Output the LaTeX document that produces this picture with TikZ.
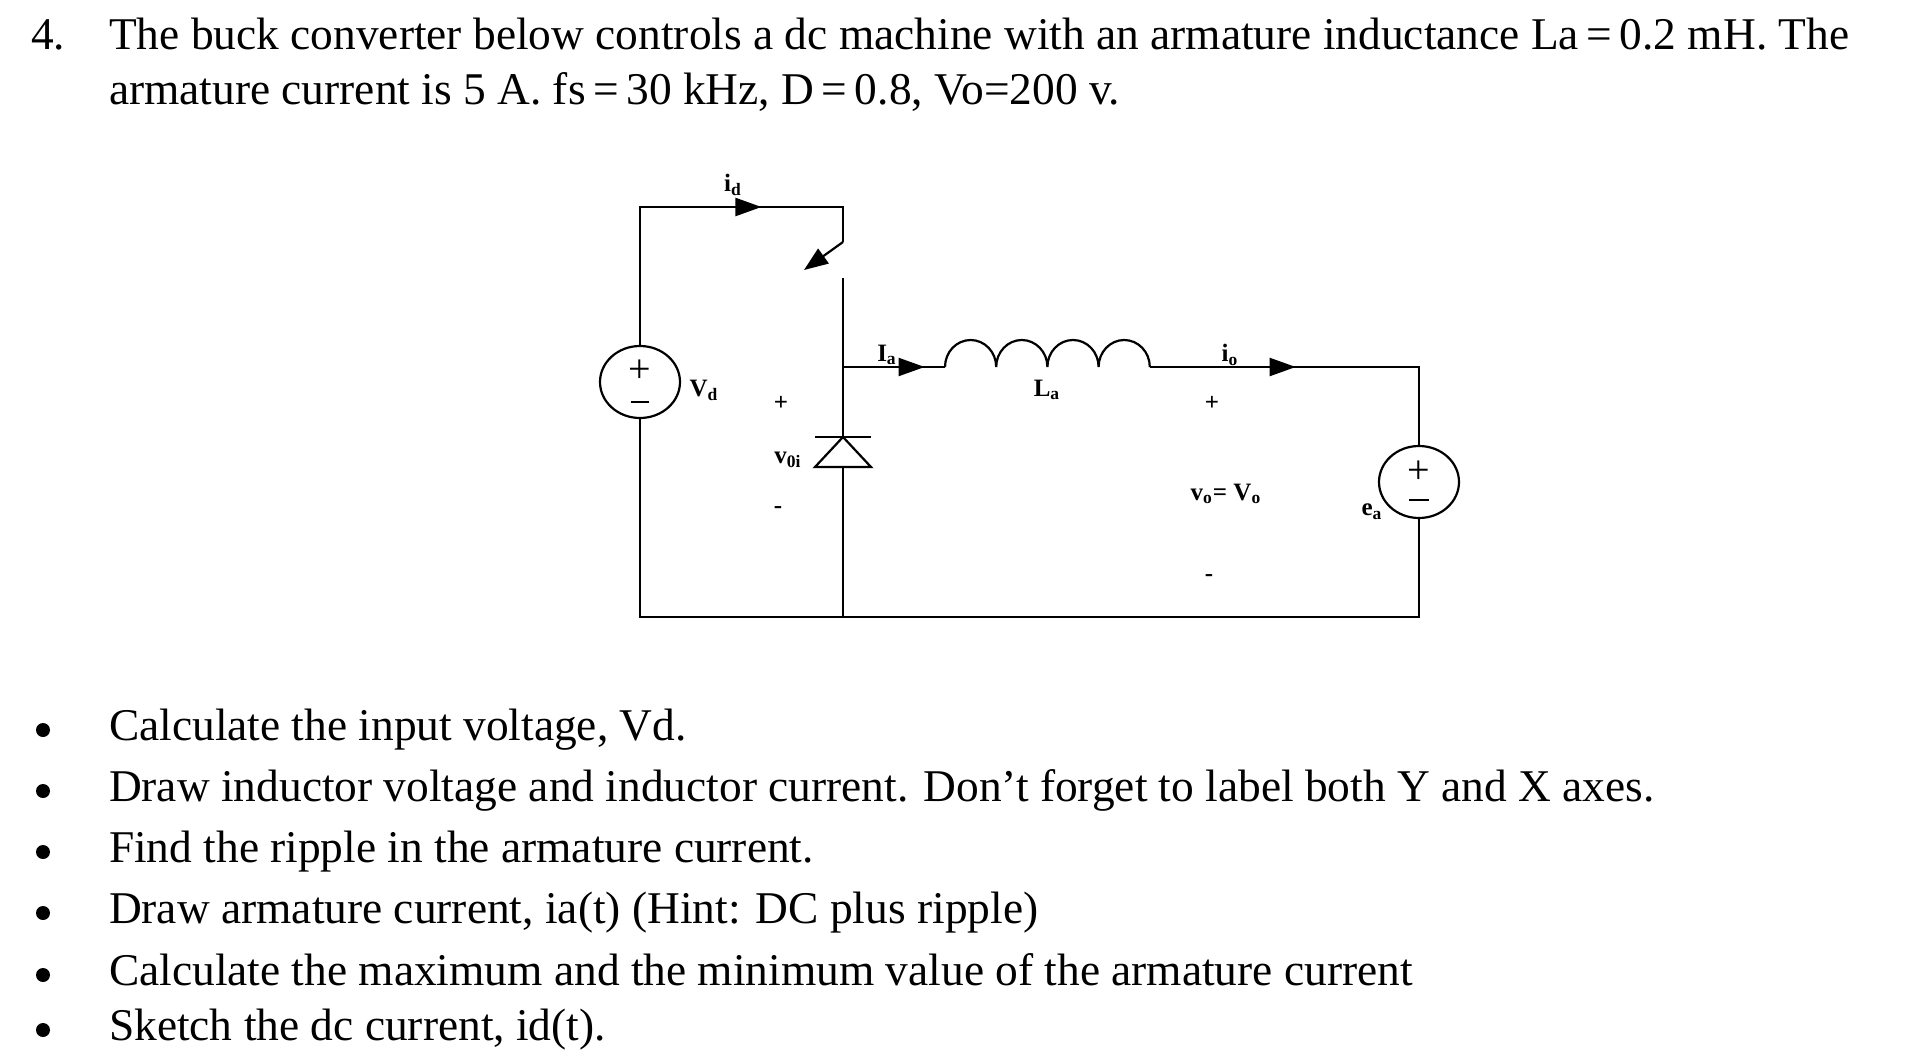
\documentclass[tikz,border=0pt]{standalone}
\usepackage{fontspec}
\setmainfont{Liberation Serif}
\usetikzlibrary{arrows.meta,decorations.markings,shapes.geometric}
\begin{document}
\begin{tikzpicture}[x=0.5pt,y=-0.5pt,line width=1.1pt,
  txt/.style={anchor=base west,inner sep=0,font=\fontsize{22.7}{26}\selectfont},
  lbl/.style={inner sep=0,font=\fontsize{12.5}{14}\selectfont\bfseries},
  wire/.style={line width=1.1pt},
  src/.style={draw,ellipse,minimum width=40pt,minimum height=36pt,inner sep=0,line width=1.1pt},
  tip/.style={postaction={decorate},decoration={markings,mark=at position #1 with {\arrow{Triangle[length=13pt,width=9pt]}}}}]
\useasboundingbox (0,0) rectangle (1908,1060);
% text
\node[txt] (n4) at (30,49) {4.};
\node[txt] (l1) at (108,49) {The buck converter below controls a dc machine with an armature inductance La\,=\,0.2 mH. The};
\node[txt] (l2) at (108,104) {armature current is 5 A. fs\,=\,30 kHz, D\,=\,0.8, Vo=200 v.};
\foreach \y/\t [count=\i] in {740/{Calculate the input voltage, Vd.},801/{Draw inductor voltage and inductor current. Don’t forget to label both Y and X axes.},862/{Find the ripple in the armature current.},923/{Draw armature current, ia(t) (Hint: DC plus ripple)},985/{Calculate the maximum and the minimum value of the armature current},1040/{Sketch the dc current, id(t).}}{
  \node[txt] (b\i) at (108,\y) {\t};
  \fill (43,\y-10) circle (7);
}
% circuit coordinates
\coordinate (tl) at (640,207);
\coordinate (tr) at (843,207);
\coordinate (sw1) at (843,242);
\coordinate (swt) at (804,270);
\coordinate (sw2) at (843,278);
\coordinate (jn) at (843,367);
\coordinate (bl) at (640,617);
\coordinate (bm) at (843,617);
\coordinate (br) at (1419,617);
\coordinate (rt) at (1419,367);
\coordinate (L1) at (945,367);
\coordinate (L2) at (1150,367);
\node[src] (vd) at (640,382) {};
\node[src] (ea) at (1419,482) {};
\node[inner sep=0,font=\fontsize{20}{20}\selectfont] at (640,371) {+};
\draw (631,402)--(649,402);
\node[inner sep=0,font=\fontsize{20}{20}\selectfont] at (1419,472) {+};
\draw (1409,500)--(1429,500);
% wires
\draw[wire,tip=0.69] (vd.north) -- (tl) -- (tr) -- (sw1);
\draw[wire,-{Triangle[length=12pt,width=9pt]}] (sw1) -- (swt);
\draw[wire] (sw2) -- (jn) -- (bm);
\draw[wire,tip=0.8] (jn) -- (L1);
\draw[wire] (L1) \foreach \k in {0,1,2,3}{ arc[start angle=180,end angle=0,x radius=25.6,y radius=-27] };
\draw[wire,tip=0.42] (L2) -- (rt) -- (ea.north);
\draw[wire] (ea.south) -- (br) -- (bl) -- (vd.south);
% diode
\coordinate (d1) at (815,467); \coordinate (d2) at (871,467);
\draw[wire,fill=white] (843,437) -- (d1) -- (d2) -- cycle;
\draw[wire] (815,437) -- (871,437);
% labels
\node[lbl] at (733,185) {i\textsubscript{d}};
\node[lbl] at (704,390) {V\textsubscript{d}};
\node[lbl] at (781,403) {+};
\node[lbl] at (788,460) {v\textsubscript{0i}};
\node[lbl] at (778,510) {-};
\node[lbl] at (887,355) {I\textsubscript{a}};
\node[lbl] at (1047,390) {L\textsubscript{a}};
\node[lbl] at (1230,355) {i\textsubscript{o}};
\node[lbl] at (1212,403) {+};
\node[lbl] at (1226,494) {v\textsubscript{o}= V\textsubscript{o}};
\node[lbl] at (1209,578) {-};
\node[lbl] at (1372,512) {e\textsubscript{a}};
\end{tikzpicture}
\end{document}
